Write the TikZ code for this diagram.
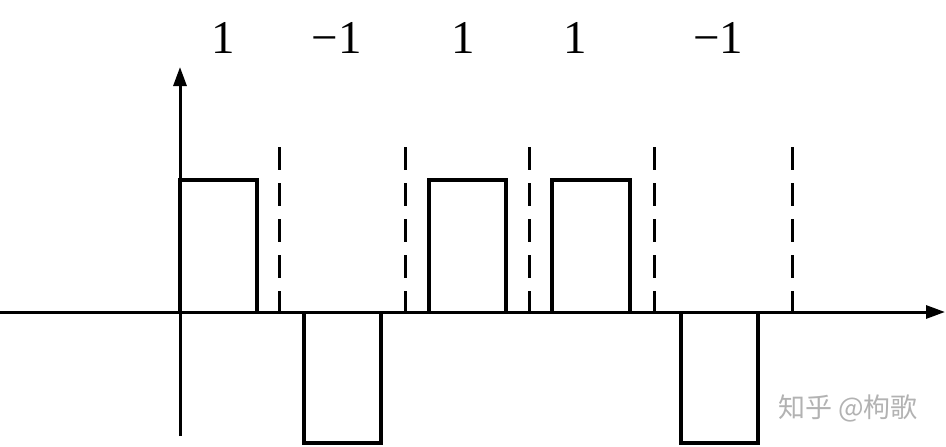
\documentclass[tikz,border=0pt]{standalone}
\usepackage{fontspec}
\setmainfont{Liberation Serif}
\newfontfamily\cjkfont{Noto Sans CJK SC}
\usetikzlibrary{arrows.meta}
\begin{document}
\begin{tikzpicture}[x=1pt,y=-1pt,
  axis/.style={line width=3pt,-{Triangle[length=19pt,width=13pt]}},
  pulse/.style={line width=3.8pt,line join=miter},
  divider/.style={line width=3pt,dash pattern=on 23pt off 13pt},
  lab/.style={font=\fontsize{47}{47}\selectfont,anchor=base,inner sep=0pt},
  wm/.style={font=\cjkfont\fontsize{27}{27}\selectfont,text=black!30,inner sep=0pt}]
\useasboundingbox (0,0) rectangle (946,447);
\coordinate (xs) at (0,312);
\coordinate (xe) at (945,312);
\coordinate (ys) at (180,436);
\coordinate (ye) at (180,67);
\draw[axis] (xs) -- (xe);
\draw[axis] (ys) -- (ye);
% pulses
\draw[pulse] (180,312) -- (180,180) -- (257,180) -- (257,312);
\draw[pulse] (304,312) -- (304,443) -- (381,443) -- (381,312);
\draw[pulse] (429,312) -- (429,180) -- (506,180) -- (506,312);
\draw[pulse] (552,312) -- (552,180) -- (630,180) -- (630,312);
\draw[pulse] (681,312) -- (681,443) -- (758,443) -- (758,312);
% dashed dividers
\foreach \x in {279,405,529,654,792}
  \draw[divider] (\x,147) -- (\x,312);
% labels
\node[lab] (l1) at (223,53) {1};
\node[lab] (l2) at (337,53) {−1};
\node[lab] (l3) at (463,53) {1};
\node[lab] (l4) at (575,53) {1};
\node[lab] (l5) at (718,53) {−1};
\node[wm] (wm) at (848,408) {知乎 @枸歌};
\end{tikzpicture}
\end{document}
